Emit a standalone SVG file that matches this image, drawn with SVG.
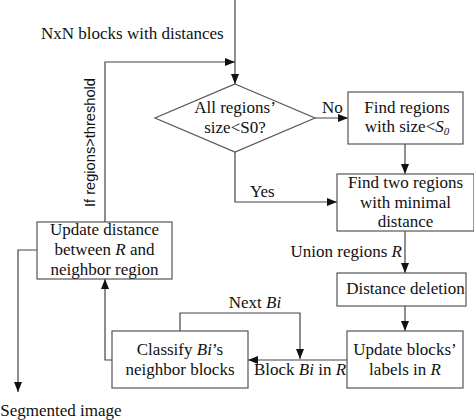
<svg xmlns="http://www.w3.org/2000/svg" width="474" height="420" viewBox="0 0 474 420">
<style>
text{font-family:"Liberation Serif","Times New Roman",serif;font-size:17px;fill:#111}
.c{text-anchor:middle}
.box{fill:#fff;stroke:#555;stroke-width:1.2}
.ln{fill:none;stroke:#444;stroke-width:1.2}
.it{font-style:italic}
.sans{font-family:"Liberation Sans",Arial,sans-serif;font-size:14.5px}
</style>
<defs>
<marker id="ah" markerUnits="userSpaceOnUse" markerWidth="10" markerHeight="8" refX="10" refY="4" orient="auto">
<path d="M0,0 L10,4 L0,8 Z" fill="#111"/>
</marker>
</defs>
<g id="connectors">
<path class="ln" d="M235,0 V84" marker-end="url(#ah)"/>
<path class="ln" d="M105,222 V62 H235" marker-end="url(#ah)"/>
<path class="ln" d="M315,118 H348" marker-end="url(#ah)"/>
<path class="ln" d="M405,144 V174" marker-end="url(#ah)"/>
<path class="ln" d="M235,152 V202 H337" marker-end="url(#ah)"/>
<path class="ln" d="M405,231 V273" marker-end="url(#ah)"/>
<path class="ln" d="M405,306 V331" marker-end="url(#ah)"/>
<path class="ln" d="M347,360 H248" marker-end="url(#ah)"/>
<path class="ln" d="M180,331 V313 H300 V359" marker-end="url(#ah)"/>
<path class="ln" d="M112,360 H105 V279" marker-end="url(#ah)"/>
<path class="ln" d="M37,250 H18 V392" marker-end="url(#ah)"/>
</g>
<g id="labels">
<text x="41" y="38.5">NxN blocks with distances</text>
<text class="sans" transform="translate(95,142.5) rotate(-90)" text-anchor="middle" textLength="129" lengthAdjust="spacingAndGlyphs">If regions&gt;threshold</text>
<text x="322" y="113">No</text>
<text x="250" y="197">Yes</text>
<text x="402" y="257" text-anchor="end">Union regions <tspan class="it">R</tspan></text>
<text x="255" y="308" class="c">Next <tspan class="it">Bi</tspan></text>
<text x="300" y="375" class="c">Block <tspan class="it">Bi</tspan> in <tspan class="it">R</tspan></text>
<text x="61" y="415.5" class="c">Segmented image</text>
</g>
<g id="decision">
<polygon class="box" points="235,84 315,118 235,152 155,118"/>
<text x="235" y="113" class="c">All regions’</text>
<text x="235" y="133" class="c">size&lt;S0?</text>
</g>
<g id="find-regions">
<rect class="box" x="348" y="92" width="115" height="52"/>
<text x="407" y="113" class="c">Find regions</text>
<text x="407" y="132" class="c">with size&lt;<tspan class="it">S</tspan><tspan class="it" font-size="11" dy="3">0</tspan></text>
</g>
<g id="find-two">
<rect class="box" x="337" y="174" width="137" height="57"/>
<text x="405.5" y="188" class="c">Find two regions</text>
<text x="405.5" y="208" class="c">with minimal</text>
<text x="405.5" y="227" class="c">distance</text>
</g>
<g id="distance-deletion">
<rect class="box" x="337" y="273" width="129" height="33"/>
<text x="405.5" y="294" class="c">Distance deletion</text>
</g>
<g id="update-blocks">
<rect class="box" x="347" y="331" width="116" height="57"/>
<text x="405" y="355" class="c">Update blocks’</text>
<text x="405" y="375" class="c">labels in <tspan class="it">R</tspan></text>
</g>
<g id="classify">
<rect class="box" x="112" y="331" width="136" height="57"/>
<text x="180" y="355" class="c">Classify <tspan class="it">Bi</tspan>’s</text>
<text x="180" y="375" class="c">neighbor blocks</text>
</g>
<g id="update-distance">
<rect class="box" x="37" y="222" width="135" height="57"/>
<text x="104.5" y="235" class="c">Update distance</text>
<text x="104.5" y="255" class="c">between <tspan class="it">R</tspan> and</text>
<text x="104.5" y="275" class="c">neighbor region</text>
</g>
</svg>
